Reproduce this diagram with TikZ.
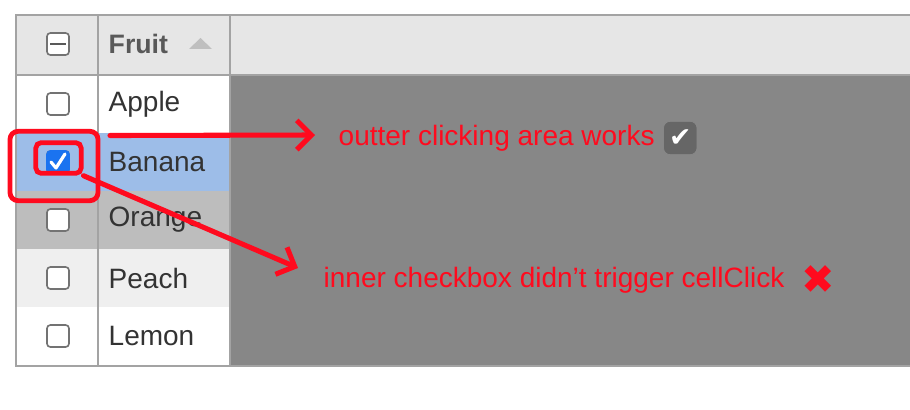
\documentclass[tikz,border=0pt]{standalone}
\usepackage{fontspec}
\setmainfont{Liberation Sans}
\newfontfamily\symfont{DejaVu Sans}
\usepackage{tikz}
\usetikzlibrary{arrows.meta, calc, positioning}
\definecolor{gridline}{HTML}{A3A3A3}
\definecolor{headbg}{HTML}{E6E6E6}
\definecolor{overlaygray}{HTML}{878787}
\definecolor{selrow}{HTML}{9DBDE8}
\definecolor{orangerow}{HTML}{BDBDBD}
\definecolor{evenrow}{HTML}{EFEFEF}
\definecolor{mark}{HTML}{FF0A1E}
\definecolor{tick}{HTML}{1A73F0}
\tikzset{%
    cellfont/.style={font=\fontsize{21}{24}\selectfont, text=black!80},
    box/.style={%
        rectangle,
        draw=black!55, line width=1.2pt,
        fill=white,
        minimum size=16.5pt,
        inner sep=0pt,
        rounded corners=2.5pt,
    },
    callout/.style={%
        draw=mark, line width=3.6pt,
        rounded corners=6pt,
    },
    edge/.style={%
        draw=mark, line width=3.8pt, line cap=round,
        -{Straight Barb[length=11pt, width=22pt, line width=3.8pt]},
    },
    note/.style={%
        anchor=west,
        text=mark,
        font=\fontsize{21}{24}\selectfont,
    },
}
\begin{document}
\begin{tikzpicture}[x=0.75pt, y=-0.75pt]
	\useasboundingbox (0,0) rectangle (910,410);

	% row backgrounds
	\fill[headbg] (16,15) rectangle (910,75);
	\fill[white] (16,75) rectangle (230,133);
	\fill[selrow] (16,133) rectangle (230,191);
	\fill[orangerow] (16,191) rectangle (230,249);
	\fill[evenrow] (16,249) rectangle (230,307);
	\fill[white] (16,307) rectangle (230,366);
	\fill[overlaygray] (230,75) rectangle (910,366);

	% grid
	\draw[gridline, line width=1.5pt] (910,15) -- (16,15) -- (16,366) -- (910,366);
	\draw[gridline, line width=1.5pt] (16,75) -- (910,75);
	\draw[gridline, line width=1.5pt] (98,15) -- (98,366);
	\draw[gridline, line width=1.5pt] (230,15) -- (230,366);

	% header
	\node [box] at (58,44) (head_box) {};
	\draw[black!65, line width=1.8pt] ($(head_box.west)+(4,0)$) -- ($(head_box.east)+(-4,0)$);
	\node [anchor=west, font=\bfseries\fontsize{20}{24}\selectfont, text=black!65] at (104,44) (head_fruit) {Fruit};
	\fill[black!25] (189,49) -- (212,49) -- (200.5,38) -- cycle;

	% rows
	\foreach \y/\name/\label in {104/apple/Apple, 162/banana/Banana, 220/orange/Orange, 278/peach/Peach, 336/lemon/Lemon} {
		\node [box] at (58,\y) (box_\name) {};
		\node [cellfont, anchor=west] at (104,\y) (cell_\name) {\label};
	}
	\node [box, fill=tick, draw=tick] at (58,162) (box_checked) {};
	\draw[white, line width=2.4pt, line cap=round, line join=round] (51,162) -- (56,168) -- (65,154);

	% callouts
	\node [callout, minimum width=66pt, minimum height=52pt] at (54,166) (outer_area) {};
	\node [callout, minimum width=34pt, minimum height=23pt, rounded corners=4pt] at (58.5,158) (inner_box) {};

	\node [note] at (334,138) (note_outer) {outter clicking area works};
	\node [right=3pt of note_outer, fill=black!60, draw=black!45, rounded corners=5pt,
	       minimum size=25pt, inner sep=0pt, text=white!90, font=\symfont\fontsize{20}{20}\selectfont] (icon_ok) {✔};
	\node [note] at (319,280) (note_inner) {inner checkbox didn’t trigger cellClick};
	\node [right=9pt of note_inner, text=mark, inner sep=0pt, font=\symfont\fontsize{30}{30}\selectfont] (icon_fail) {✖};

	\coordinate (tip_outer) at (315,135);
	\coordinate (tip_inner) at (298,268);
	\draw[edge] ($(cell_banana.north west)+(6,-12)$) -- (tip_outer);
	\draw[edge] (inner_box.south east) -- (tip_inner);
\end{tikzpicture}
\end{document}
